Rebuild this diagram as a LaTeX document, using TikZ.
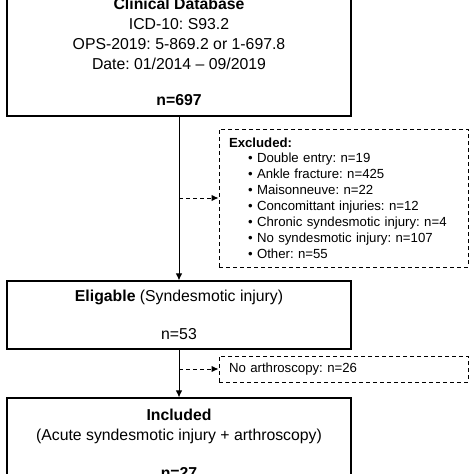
\documentclass[tikz,border=0pt]{standalone}
\usepackage{fontspec}
\setmainfont{Liberation Sans}
\frenchspacing
\usetikzlibrary{arrows.meta}
\begin{document}
\begin{tikzpicture}[x=1pt,y=-1pt,
  mainbox/.style={draw,line width=1.1pt,minimum width=344pt,align=center,inner sep=0pt,
    font=\fontsize{15.8}{20}\selectfont},
  exclbox/.style={draw,line width=1pt,dash pattern=on 4pt off 3pt,minimum width=249pt,
    text width=229pt,align=left,inner xsep=10pt,inner ysep=0pt,font=\fontsize{13.2}{15.9}\selectfont},
  flow/.style={line width=1pt,-{Latex[length=7pt,width=6.5pt]}},
  sideflow/.style={flow,dash pattern=on 4pt off 3pt}]
\useasboundingbox (0,0) rectangle (474,474);
\node[mainbox,minimum height=128pt] (db) at (179,52) {\textbf{Clinical Database}\\ICD-10: S93.2\\OPS-2019: 5-869.2 or 1-697.8\\Date: 01/2014 -- 09/2019\\[16pt]\textbf{n=697}};
\node[exclbox,minimum height=138pt] (excl) at (343.5,198) {\textbf{Excluded:}\\
  \hspace*{19pt}•\ Double entry: n=19\\
  \hspace*{19pt}•\ Ankle fracture: n=425\\
  \hspace*{19pt}•\ Maisonneuve: n=22\\
  \hspace*{19pt}•\ Concomittant injuries: n=12\\
  \hspace*{19pt}•\ Chronic syndesmotic injury: n=4\\
  \hspace*{19pt}•\ No syndesmotic injury: n=107\\
  \hspace*{19pt}•\ Other: n=55};
\node[mainbox,minimum height=68pt] (elig) at (179,315) {\textbf{Eligable} (Syndesmotic injury)\\[18pt]n=53};
\node[exclbox,minimum height=26pt] (noarth) at (343.5,369) {No arthroscopy: n=26};
\node[mainbox,minimum height=92pt] (incl) at (179,444) {\textbf{Included}\\(Acute syndesmotic injury + arthroscopy)\\[18pt]\textbf{n=27}};
\draw[flow] (db.south) -- (elig.north);
\draw[sideflow] (db.south |- excl.west) -- (excl.west);
\draw[flow] (elig.south) -- (incl.north);
\draw[sideflow] (elig.south |- noarth.west) -- (noarth.west);
\end{tikzpicture}
\end{document}
